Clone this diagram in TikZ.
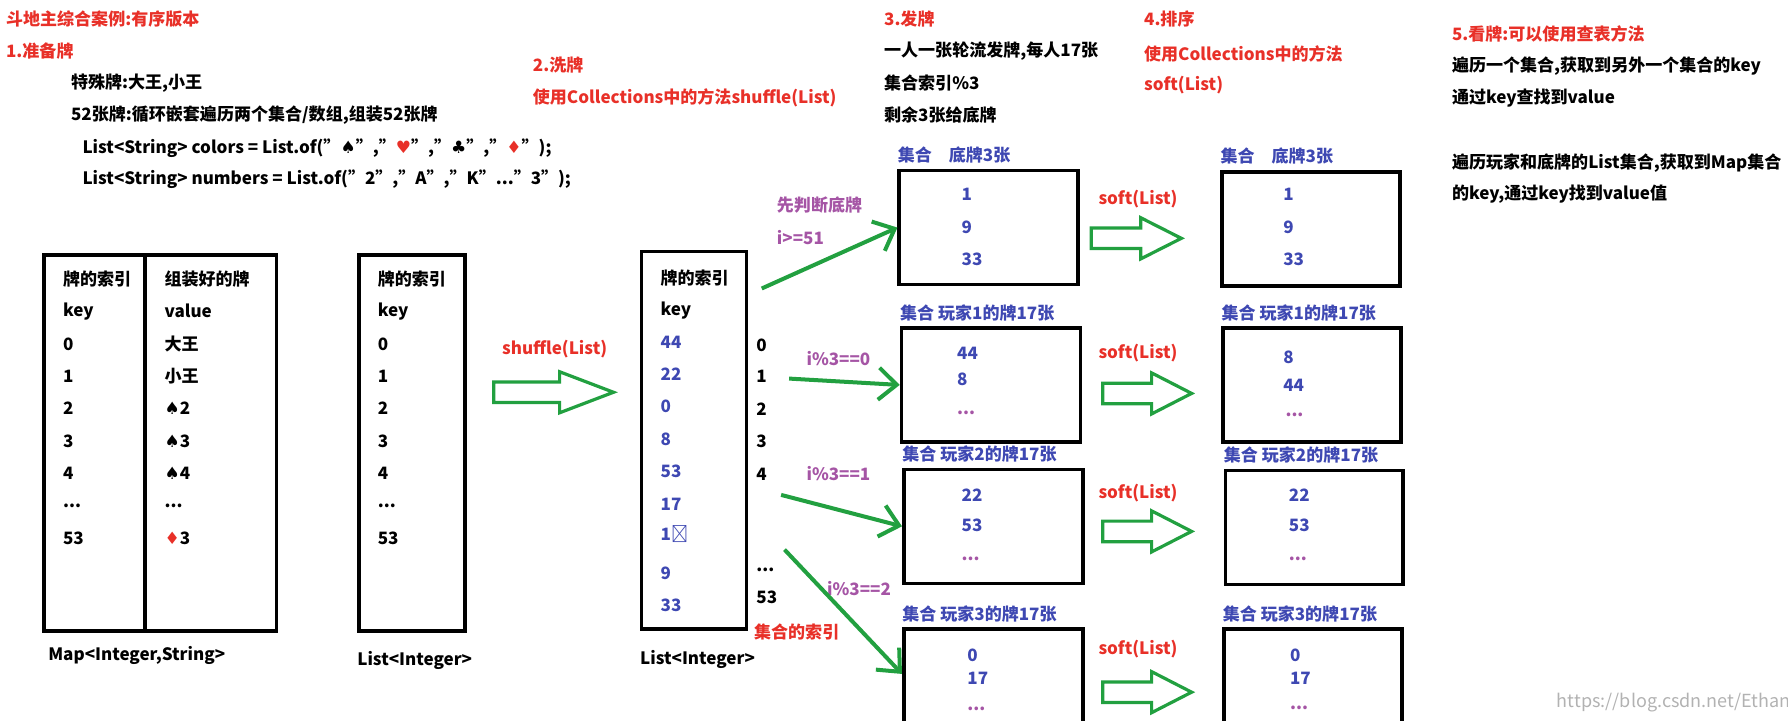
\documentclass[tikz,border=0pt]{standalone}
\usepackage{fontspec}
\setmainfont{Noto Sans CJK SC}
\newfontfamily\symfont{DejaVu Sans}
\usetikzlibrary{arrows.meta}
\definecolor{titlered}{RGB}{232,48,40}
\definecolor{keyblue}{RGB}{62,72,178}
\definecolor{notepurple}{RGB}{165,85,165}
\definecolor{arrowgreen}{RGB}{34,160,64}
\newcommand{\ddd}{...}
\tikzset{
  txt/.style={anchor=west,inner sep=0pt,font=\fontsize{8.5}{10}\selectfont\bfseries},
  redtxt/.style={txt,text=titlered},
  bluetxt/.style={txt,text=keyblue},
  purpletxt/.style={txt,text=notepurple},
  box/.style={draw,line width=1.8pt,anchor=north west,inner sep=0pt},
  deal/.style={draw=arrowgreen,line width=2pt,-{Straight Barb[length=9pt,width=16pt,line width=2pt]}},
}
% hollow arrow: left x, centre y, length
\newcommand{\hollowarrow}[3]{%
  \draw[arrowgreen,line width=1.6pt,line join=miter]
    (#1,#2-9) -- ++(0.55*#3,0) -- ++(0,-9) -- (#1+#3,#2) -- (#1+0.55*#3,#2+18)
    -- ++(0,-9) -- (#1,#2+9) -- cycle;}
\begin{document}
\begin{tikzpicture}[x=0.02cm,y=-0.02cm]
  \useasboundingbox (0,0) rectangle (1568,632);
  % step 1
  \node[redtxt] (t0) at (5,17) {斗地主综合案例:有序版本};
  \node[redtxt] (t1) at (5,45) {1.准备牌};
  \node[txt] (s1) at (62,73) {特殊牌:大王,小王};
  \node[txt] (s2) at (62,101) {52张牌:循环嵌套遍历两个集合/数组,组装52张牌};
  \node[txt] (s3) at (72,130) {List<String> colors = List.of("{\symfont ♠}","{\symfont\color{titlered}♥}","{\symfont ♣}","{\symfont\color{titlered}♦}");};
  \node[txt] (s4) at (72,157) {List<String> numbers = List.of("2","A","K"\ddd"3");};
  % step 2
  \node[redtxt] (t2) at (467,57) {2.洗牌};
  \node[redtxt] (s5) at (467,86) {使用Collections中的方法shuffle(List)};
  % step 3
  \node[redtxt] (t3) at (775,17) {3.发牌};
  \node[txt] (s6) at (775,45) {一人一张轮流发牌,每人17张};
  \node[txt] (s7) at (775,73) {集合索引\%3};
  \node[txt] (s8) at (775,101) {剩余3张给底牌};
  % step 4
  \node[redtxt] (t4) at (1003,17) {4.排序};
  \node[redtxt] (s9) at (1003,47) {使用Collections中的方法};
  \node[redtxt] (s10) at (1003,75) {soft(List)};
  % step 5
  \node[redtxt] (t5) at (1273,30) {5.看牌:可以使用查表方法};
  \node[txt] (s11) at (1273,58) {遍历一个集合,获取到另外一个集合的key};
  \node[txt] (s12) at (1273,86) {通过key查找到value};
  \node[txt] (s13) at (1273,143) {遍历玩家和底牌的List集合,获取到Map集合};
  \node[txt] (s14) at (1273,170) {的key,通过key找到value值};

  % map
  \node[box,minimum width=4.08cm,minimum height=6.6cm] (map) at (37,222) {};
  \draw[line width=1.8pt] (127,222) -- (127,552);
  \foreach \k/\v/\y in {牌的索引/组装好的牌/245, key/value/273, 0/大王/302, 1/小王/330,
      2/{{\symfont ♠}2}/358, 3/{{\symfont ♠}3}/387, 4/{{\symfont ♠}4}/415, \ddd/\ddd/444,
      53/{{\symfont\color{titlered}♦}3}/472}
    {\node[txt] at (55,\y) {\k}; \node[txt] at (144,\y) {\v};}
  \node[txt] (maplbl) at (42,575) {Map<Integer,String>};

  % list
  \node[box,minimum width=1.86cm,minimum height=6.6cm] (list) at (313,222) {};
  \foreach \k/\y in {牌的索引/245, key/273, 0/302, 1/330, 2/358, 3/387, 4/415, \ddd/444, 53/472}
    {\node[txt] at (331,\y) {\k};}
  \node[txt] (listlbl) at (313,579) {List<Integer>};
  \node[redtxt] (shuf) at (440,306) {shuffle(List)};
  \hollowarrow{433}{344}{105}

  % shuffled list
  \node[box,minimum width=1.84cm,minimum height=6.62cm] (shuffled) at (561,219) {};
  \node[txt] at (579,244) {牌的索引};
  \node[txt] at (579,272) {key};
  \foreach \k/\y in {44/300, 22/328, 0/356, 8/385, 53/413, 17/442, \"{1}/468, 9/503, 33/531}
    {\node[bluetxt] at (579,\y) {\k};}
  \foreach \k/\y in {0/303, 1/330, 2/359, 3/387, 4/416, \ddd/500, 53/524}
    {\node[txt] at (663,\y) {\k};}
  \node[redtxt] (idxlbl) at (661,554) {集合的索引};
  \node[txt] (shuflbl) at (561,578) {List<Integer>};

  % hands
  \foreach \n/\x/\y/\t in {
      dp/787/148/集合\quad 底牌3张,
      pa/789/286/集合 玩家1的牌17张,
      pb/791/410/集合 玩家2的牌17张,
      pc/791/550/集合 玩家3的牌17张}
    {
    \node[box,minimum width=3.14cm,minimum height=2cm] (\n) at (\x,\y) {};
    \node[bluetxt] at (\x,\y-12) {\t};
    }
  \node[bluetxt] at (843,170) {1};
  \node[bluetxt] at (843,199) {9};
  \node[bluetxt] at (843,227) {33};
  \node[bluetxt] at (839,310) {44};
  \node[bluetxt] at (839,333) {8};
  \node[purpletxt] at (839,362) {\ddd};
  \node[bluetxt] at (843,434) {22};
  \node[bluetxt] at (843,461) {53};
  \node[purpletxt] at (843,490) {\ddd};
  \node[bluetxt] at (848,575) {0};
  \node[bluetxt] at (848,595) {17};
  \node[purpletxt] at (848,622) {\ddd};

  % sorted hands
  \foreach \n/\x/\y/\t in {
      sdp/1070/149/集合\quad 底牌3张,
      spa/1071/286/集合 玩家1的牌17张,
      spb/1073/411/集合 玩家2的牌17张,
      spc/1072/550/集合 玩家3的牌17张}
    {
    \node[box,minimum width=3.12cm,minimum height=2cm] (\n) at (\x,\y) {};
    \node[bluetxt] at (\x,\y-12) {\t};
    }
  \node[bluetxt] at (1125,170) {1};
  \node[bluetxt] at (1125,199) {9};
  \node[bluetxt] at (1125,227) {33};
  \node[bluetxt] at (1125,313) {8};
  \node[bluetxt] at (1125,338) {44};
  \node[purpletxt] at (1127,364) {\ddd};
  \node[bluetxt] at (1130,434) {22};
  \node[bluetxt] at (1130,461) {53};
  \node[purpletxt] at (1130,490) {\ddd};
  \node[bluetxt] at (1131,575) {0};
  \node[bluetxt] at (1131,595) {17};
  \node[purpletxt] at (1131,621) {\ddd};

  % sorting arrows
  \node[redtxt] at (963,175) {soft(List)};
  \hollowarrow{957}{209}{79}
  \foreach \y in {310,432,569}
    {\node[redtxt] at (963,\y) {soft(List)};}
  \foreach \y in {345,466,607}
    {\hollowarrow{967}{\y}{78}}

  % dealing
  \node[purpletxt] at (681,180) {先判断底牌};
  \node[purpletxt] at (681,208) {i>=51};
  \node[purpletxt] at (707,314) {i\%3==0};
  \node[purpletxt] at (707,415) {i\%3==1};
  \node[purpletxt] at (725,516) {i\%3==2};
  \coordinate (d0) at (668,253);
  \coordinate (d1) at (692,332);
  \coordinate (d2) at (685,434);
  \coordinate (d3) at (688,482);
  \coordinate (p3in) at (791,591);
  \draw[deal] (d0) -- (dp.west);
  \draw[deal] (d1) -- (pa.west);
  \draw[deal] (d2) -- (pb.west);
  \draw[deal] (d3) -- (p3in);

  \node[txt,text=gray!60,font=\fontsize{9}{10}\selectfont] (wm) at (1365,616) {https://blog.csdn.net/Ethan\_\_\_\_};
\end{tikzpicture}
\end{document}
